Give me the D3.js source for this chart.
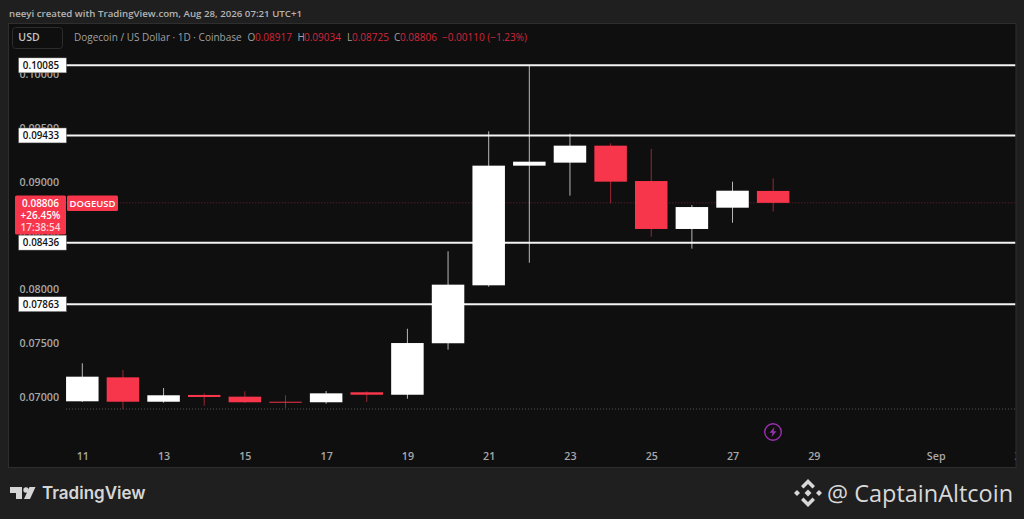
<!DOCTYPE html>
<html lang="en">
<head>
<meta charset="UTF-8">
<title>DOGEUSD</title>
<script src="https://d3js.org/d3.v7.min.js"></script>
<style>
    html, body { margin: 0; padding: 0; background: #1f1f1f; overflow: hidden; }
    svg { display: block; font-family: "Open Sans", "Noto Sans", sans-serif; }
    .axis path, .axis line { display: none; }
    .axis text { fill: #a8a8a8; font-size: 10.7px; font-family: "Open Sans", sans-serif; font-weight: 600; }
</style>
</head>
<body>
<svg id="svg"></svg>
<script>
const days = [11, 12, 13, 14, 15, 16, 17, 18, 19, 20, 21, 22, 23, 24, 25, 26, 27, 28];
const opens = [0.06960, 0.07183, 0.06956, 0.07019, 0.07003, 0.06956, 0.06951, 0.07044, 0.07021, 0.07500, 0.08039, 0.09152, 0.09180, 0.09338, 0.09009, 0.08563, 0.08761, 0.08917];
const highs = [0.07314, 0.07251, 0.07084, 0.07034, 0.07053, 0.07016, 0.07056, 0.07053, 0.07635, 0.08355, 0.09472, 0.10085, 0.09449, 0.09360, 0.09307, 0.08786, 0.09003, 0.09034];
const lows = [0.06954, 0.06888, 0.06947, 0.06919, 0.06944, 0.06898, 0.06938, 0.06954, 0.06984, 0.07440, 0.08026, 0.08249, 0.08873, 0.08802, 0.08491, 0.08380, 0.08621, 0.08725];
const closes = [0.07189, 0.06956, 0.07016, 0.07000, 0.06951, 0.06947, 0.07034, 0.07021, 0.07502, 0.08045, 0.09152, 0.09189, 0.09338, 0.09003, 0.08563, 0.08767, 0.08919, 0.08806];

const priceTicks = [0.07, 0.075, 0.08, 0.085, 0.09, 0.095, 0.1];
const levels = [0.10085, 0.09433, 0.08436, 0.07863];
const lastPrice = 0.08806;
const lowestPrice = 0.06888;

const dayTicks = [11, 13, 15, 17, 19, 21, 23, 25, 27, 29, 32, 34];
const dayLabels = ["11", "13", "15", "17", "19", "21", "23", "25", "27", "29", "Sep", "3"];

const width = 1024, height = 519;
const plot = { left: 9, right: 1015.5, top: 24, bottom: 467 };
const red = "#f7364b";

const svg = d3.select("#svg").attr("width", width).attr("height", height);

const x = d3.scaleLinear().domain([11, 29]).range([82.3, 813.8]);
const y = d3.scaleLinear().domain([0.07, 0.09]).range([397, 182]);

svg.append("clipPath").attr("id", "plotClip").append("rect")
    .attr("x", plot.left).attr("y", plot.top)
    .attr("width", plot.right - plot.left).attr("height", plot.bottom - plot.top);

svg.append("rect").attr("width", width).attr("height", height).attr("fill", "#1f1f1f");
svg.append("rect")
    .attr("x", plot.left - 0.5).attr("y", plot.top - 0.5)
    .attr("width", plot.right - plot.left + 1).attr("height", plot.bottom - plot.top + 1)
    .attr("fill", "#0f0f0f").attr("stroke", "#2e2e2e");

// header
svg.append("text").attr("x", 9).attr("y", 16.5)
    .attr("fill", "#b4b4b4").style("font-size", "9.7px").style("font-weight", 600)
    .text("neeyi created with TradingView.com, Aug 28, 2026 07:21 UTC+1");

svg.append("rect").attr("x", 12.5).attr("y", 27.5).attr("width", 50).attr("height", 21).attr("rx", 3)
    .attr("fill", "none").attr("stroke", "#2c2c2c");
svg.append("text").attr("x", 29).attr("y", 41).attr("text-anchor", "middle")
    .attr("fill", "#c4c4c4").style("font-size", "10.5px").style("font-weight", 600).text("USD");

// OHLC legend
const legendGrey = "#a0a0a0", legendRed = "#d4263c";
const legend = svg.append("text").attr("y", 40.5).style("font-size", "10px").attr("fill", legendGrey);
[["Dogecoin / US Dollar · 1D · Coinbase", legendGrey, 74], ["O", legendGrey, 247.5], ["0.08917", legendRed, 255],
 ["H", legendGrey, 297.5], ["0.09034", legendRed, 304], ["L", legendGrey, 347], ["0.08725", legendRed, 352],
 ["C", legendGrey, 394], ["0.08806", legendRed, 400], ["−0.00110 (−1.23%)", legendRed, 442]]
    .forEach(d => legend.append("tspan").attr("x", d[2]).attr("fill", d[1]).text(d[0]));

const chart = svg.append("g").attr("clip-path", "url(#plotClip)");

// dotted lines: last price and lowest visible low
chart.append("line").attr("x1", x(11) - 16).attr("x2", plot.right)
    .attr("y1", y(lastPrice)).attr("y2", y(lastPrice))
    .attr("stroke", "#6e2430").attr("stroke-dasharray", "1 2");
chart.append("line").attr("x1", 66).attr("x2", plot.right)
    .attr("y1", y(lowestPrice)).attr("y2", y(lowestPrice))
    .attr("stroke", "#555").attr("stroke-dasharray", "1 2");

// horizontal levels
chart.selectAll(".level").data(levels).enter().append("line")
    .attr("class", "level")
    .attr("x1", 64).attr("x2", plot.right)
    .attr("y1", d => y(d)).attr("y2", d => y(d))
    .attr("stroke", "#f4f4f4").attr("stroke-width", 2);

// y axis
svg.append("g").attr("class", "axis")
    .attr("transform", "translate(59,0)")
    .call(d3.axisLeft(y).tickValues(priceTicks).tickSize(0).tickPadding(0).tickFormat(d3.format(".5f")));

// x axis
chart.append("g").attr("class", "axis")
    .attr("transform", "translate(0,452)")
    .call(d3.axisBottom(x).tickValues(dayTicks).tickSize(0).tickPadding(0)
        .tickFormat((d, i) => dayLabels[i]));

// candles
const candles = days.map((d, i) => ({ day: d, o: opens[i], h: highs[i], l: lows[i], c: closes[i] }));
const bodyWidth = 32.5;
chart.selectAll(".wick").data(candles).enter().append("line")
    .attr("class", "wick")
    .attr("x1", d => x(d.day)).attr("x2", d => x(d.day))
    .attr("y1", d => y(d.h)).attr("y2", d => y(d.l))
    .attr("stroke", d => d.c >= d.o ? "#ffffff" : red)
    .attr("stroke-opacity", d => d.c >= d.o ? 0.7 : 0.6)
    .attr("stroke-width", 1);
chart.selectAll(".body").data(candles).enter().append("rect")
    .attr("class", "body")
    .attr("x", d => x(d.day) - bodyWidth / 2)
    .attr("width", bodyWidth)
    .attr("y", d => y(Math.max(d.o, d.c)))
    .attr("height", d => Math.abs(y(d.o) - y(d.c)))
    .attr("fill", d => d.c >= d.o ? "#ffffff" : red);

// level labels on the axis
const labels = svg.selectAll(".levelLabel").data(levels).enter().append("g")
    .attr("class", "levelLabel")
    .attr("transform", d => `translate(0,${y(d)})`);
labels.append("rect").attr("x", 18.5).attr("y", -7.5).attr("width", 48).attr("height", 15)
    .attr("fill", "#fff").attr("stroke", "#444").attr("stroke-width", 0.5);
labels.append("text").attr("x", 41).attr("dy", "0.36em").attr("text-anchor", "middle")
    .attr("fill", "#111").style("font-size", "9.8px").style("font-weight", 600)
    .text(d => d3.format(".5f")(d));

// last price tag
svg.append("rect").attr("x", 15).attr("y", 195.5).attr("width", 51).attr("height", 39).attr("rx", 1.5).attr("fill", red);
svg.append("rect").attr("x", 67).attr("y", 195.5).attr("width", 51).attr("height", 15.5).attr("rx", 1.5).attr("fill", red);
[["0.08806", 206.6, "#fff"], ["+26.45%", 218.6, "#fff"], ["17:38:54", 230.6, "#ffd4d9"]].forEach(d => {
    svg.append("text").attr("x", 40.5).attr("y", d[1]).attr("text-anchor", "middle")
        .attr("fill", d[2]).style("font-size", "10px").style("font-weight", 600).text(d[0]);
});
svg.append("text").attr("x", 92.5).attr("y", 206.6).attr("text-anchor", "middle")
    .attr("fill", "#fff").style("font-size", "9.5px").style("font-weight", 600).text("DOGEUSD");

// lightning marker
const bolt = svg.append("g").attr("transform", "translate(773,432)");
bolt.append("circle").attr("r", 8.3).attr("fill", "none").attr("stroke", "#9b30b0").attr("stroke-width", 1.4);
bolt.append("path").attr("d", "M1.5,-5 L-3.5,0.8 L-0.5,0.8 L-1.5,5 L3.5,-0.8 L0.5,-0.8 Z").attr("fill", "#9b30b0");

// TradingView logo
const tv = svg.append("g").attr("fill", "#d6d6d6");
tv.append("path").attr("d", "M10,487 H22 V499 H16 V493 H10 Z");
tv.append("circle").attr("cx", 26).attr("cy", 490).attr("r", 2.7);
tv.append("path").attr("d", "M29.5,487 H35.5 L30,499 H24 Z");
svg.append("text").attr("x", 42).attr("y", 499).attr("fill", "#d6d6d6")
    .style("font-family", "Inter, sans-serif").style("font-size", "17px").style("font-weight", 600)
    .text("TradingView");

// watermark
const bnb = svg.append("g").attr("transform", "translate(808,493)").attr("fill", "#d8d8d8");
bnb.append("path").attr("d", "M0,-14 L7,-7 L4.5,-4.5 L0,-9 L-4.5,-4.5 L-7,-7 Z");
bnb.append("path").attr("d", "M0,14 L7,7 L4.5,4.5 L0,9 L-4.5,4.5 L-7,7 Z");
bnb.append("path").attr("d", "M-14,0 L-11,-3 L-8,0 L-11,3 Z");
bnb.append("path").attr("d", "M14,0 L11,-3 L8,0 L11,3 Z");
bnb.append("path").attr("d", "M0,-3.5 L3.5,0 L0,3.5 L-3.5,0 Z");
svg.append("text").attr("x", 827).attr("y", 502).attr("fill", "#d8d8d8")
    .style("font-family", "Open Sans, sans-serif").style("font-size", "23.5px")
    .text("@ CaptainAltcoin");
</script>
</body>
</html>
